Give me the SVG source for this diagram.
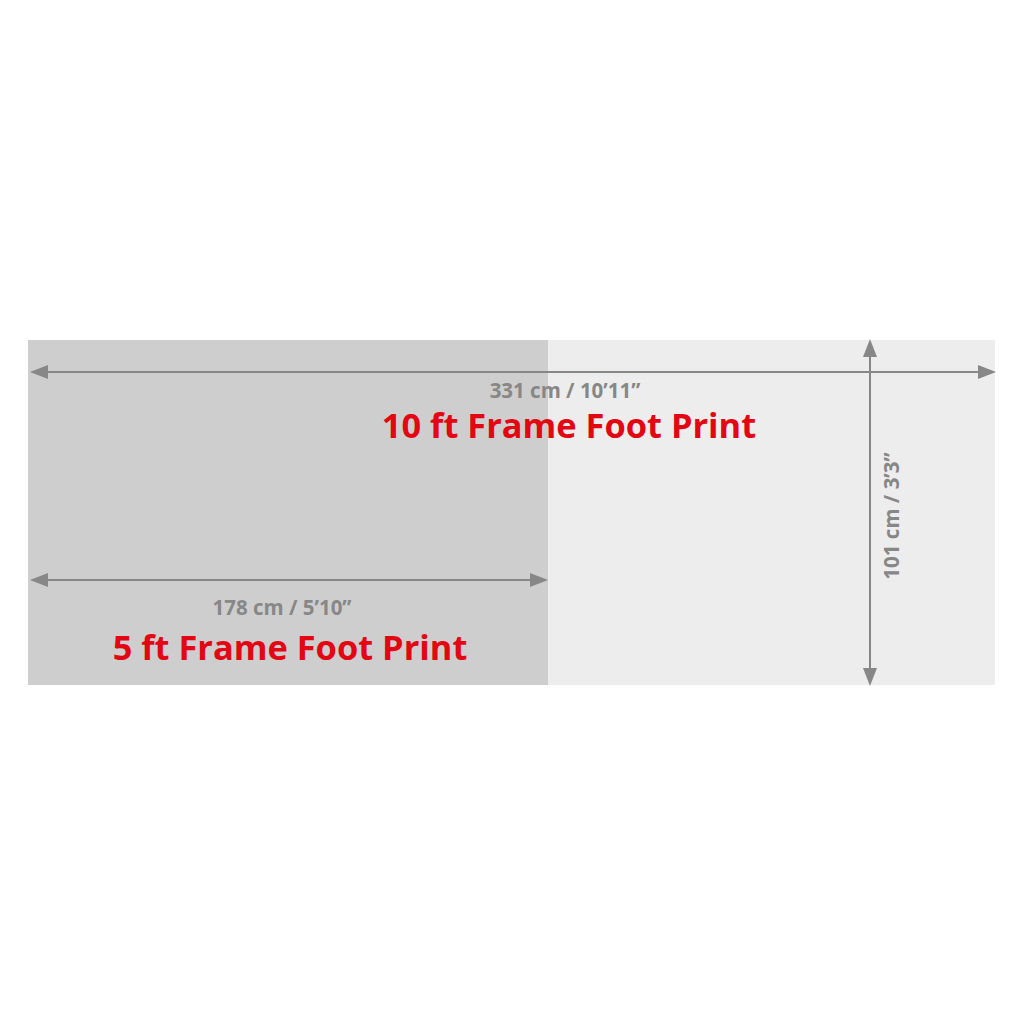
<svg xmlns="http://www.w3.org/2000/svg" width="1024" height="1024" viewBox="0 0 1024 1024">
<style>
.dim{font-family:"Open Sans","Liberation Sans",sans-serif;font-weight:bold;fill:#878787;font-size:20.5px;text-anchor:middle}
.ttl{font-family:"Open Sans","Liberation Sans",sans-serif;font-weight:bold;fill:#e30613;font-size:34.4px;text-anchor:middle}
.ln{stroke:#878787;stroke-width:2;fill:none}
.ah{fill:#878787}
</style>
<rect width="1024" height="1024" fill="#ffffff"/>
<g id="footprint-10ft"><rect x="28" y="340" width="967" height="345" fill="#ededed"/></g>
<g id="footprint-5ft"><rect x="28" y="340" width="520" height="345" fill="#cecece"/></g>
<g id="connectors">
<line class="ln" x1="45" y1="372" x2="980" y2="372"/>
<polygon class="ah" points="30,372 48,365 48,379"/>
<polygon class="ah" points="996,372 978,365 978,379"/>
<line class="ln" x1="45" y1="580" x2="532" y2="580"/>
<polygon class="ah" points="30,580 48,573 48,587"/>
<polygon class="ah" points="548,580 530,573 530,587"/>
<line class="ln" x1="870" y1="355" x2="870" y2="670"/>
<polygon class="ah" points="870,339 863,357 877,357"/>
<polygon class="ah" points="870,686 863,668 877,668"/>
</g>
<g id="labels">
<text class="dim" x="565" y="398">331 cm / 10’11”</text>
<text class="ttl" x="569" y="438">10 ft Frame Foot Print</text>
<text class="dim" x="282" y="615">178 cm / 5’10”</text>
<text class="ttl" x="290" y="660">5 ft Frame Foot Print</text>
<text class="dim" transform="translate(899,516) rotate(-90)">101 cm / 3’3”</text>
</g>
</svg>
